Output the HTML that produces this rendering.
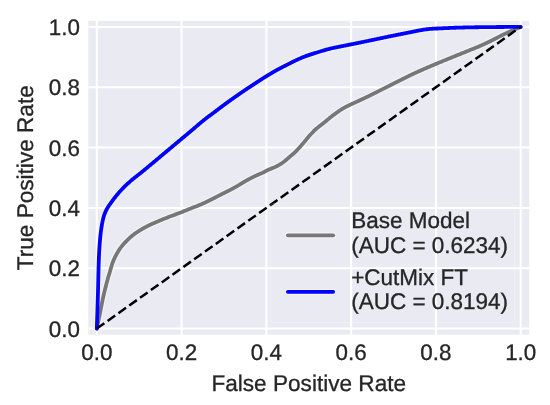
<!DOCTYPE html>
<html><head><meta charset="utf-8"><style>
html,body{margin:0;padding:0;background:#fff;}
svg{display:block;}
text{text-rendering:geometricPrecision;font-family:"Liberation Sans",Arial,sans-serif;fill:#262626;stroke:#262626;stroke-width:0.3px;}
</style></head><body>
<svg width="550" height="405" viewBox="0 0 550 405">
<rect x="88.32" y="20.87" width="440.86" height="313.77" fill="#EAEAF2"/>
<line x1="96.80" y1="20.87" x2="96.80" y2="334.63" stroke="#fff" stroke-width="2.0"/>
<line x1="88.32" y1="328.60" x2="529.18" y2="328.60" stroke="#fff" stroke-width="2.0"/>
<line x1="181.58" y1="20.87" x2="181.58" y2="334.63" stroke="#fff" stroke-width="2.0"/>
<line x1="88.32" y1="268.26" x2="529.18" y2="268.26" stroke="#fff" stroke-width="2.0"/>
<line x1="266.36" y1="20.87" x2="266.36" y2="334.63" stroke="#fff" stroke-width="2.0"/>
<line x1="88.32" y1="207.92" x2="529.18" y2="207.92" stroke="#fff" stroke-width="2.0"/>
<line x1="351.14" y1="20.87" x2="351.14" y2="334.63" stroke="#fff" stroke-width="2.0"/>
<line x1="88.32" y1="147.58" x2="529.18" y2="147.58" stroke="#fff" stroke-width="2.0"/>
<line x1="435.92" y1="20.87" x2="435.92" y2="334.63" stroke="#fff" stroke-width="2.0"/>
<line x1="88.32" y1="87.24" x2="529.18" y2="87.24" stroke="#fff" stroke-width="2.0"/>
<line x1="520.70" y1="20.87" x2="520.70" y2="334.63" stroke="#fff" stroke-width="2.0"/>
<line x1="88.32" y1="26.90" x2="529.18" y2="26.90" stroke="#fff" stroke-width="2.0"/>
<path d="M96.80,328.60 L96.98,327.77 L97.15,326.95 L97.32,326.12 L97.50,325.30 L97.67,324.47 L97.85,323.64 L98.02,322.81 L98.19,321.98 L98.36,321.16 L98.54,320.33 L98.71,319.50 L98.88,318.67 L99.05,317.84 L99.22,317.01 L99.39,316.18 L99.56,315.35 L99.73,314.52 L99.90,313.69 L100.07,312.85 L100.24,312.02 L100.40,311.18 L100.57,310.35 L100.73,309.51 L100.89,308.67 L101.05,307.83 L101.21,306.99 L101.37,306.15 L101.53,305.31 L101.70,304.47 L101.86,303.63 L102.02,302.79 L102.19,301.96 L102.35,301.12 L102.52,300.29 L102.69,299.46 L102.87,298.63 L103.04,297.81 L103.22,296.99 L103.41,296.18 L103.59,295.36 L103.78,294.55 L103.97,293.74 L104.16,292.92 L104.35,292.12 L104.54,291.31 L104.74,290.50 L104.94,289.70 L105.14,288.90 L105.34,288.10 L105.54,287.30 L105.74,286.50 L105.95,285.71 L106.16,284.91 L106.37,284.12 L106.57,283.33 L106.79,282.54 L107.00,281.75 L107.21,280.96 L107.43,280.18 L107.65,279.40 L107.87,278.62 L108.09,277.84 L108.32,277.07 L108.55,276.30 L108.78,275.53 L109.01,274.76 L109.24,273.99 L109.47,273.22 L109.70,272.44 L109.92,271.66 L110.14,270.88 L110.36,270.09 L110.58,269.31 L110.81,268.53 L111.03,267.75 L111.26,266.97 L111.49,266.20 L111.72,265.44 L111.96,264.68 L112.21,263.93 L112.47,263.19 L112.73,262.46 L113.00,261.74 L113.28,261.02 L113.57,260.32 L113.88,259.62 L114.18,258.92 L114.50,258.24 L114.83,257.56 L115.16,256.88 L115.50,256.22 L115.84,255.56 L116.19,254.90 L116.54,254.25 L116.89,253.61 L117.25,252.98 L117.62,252.35 L118.00,251.72 L118.38,251.10 L118.77,250.49 L119.16,249.88 L119.56,249.28 L119.97,248.68 L120.39,248.09 L120.81,247.51 L121.23,246.94 L121.66,246.37 L122.10,245.82 L122.55,245.27 L123.01,244.72 L123.47,244.19 L123.94,243.66 L124.42,243.13 L124.91,242.62 L125.40,242.10 L125.89,241.60 L126.39,241.09 L126.89,240.59 L127.40,240.10 L127.90,239.60 L128.41,239.11 L128.93,238.63 L129.44,238.14 L129.97,237.66 L130.49,237.19 L131.03,236.72 L131.57,236.25 L132.11,235.80 L132.66,235.35 L133.22,234.90 L133.78,234.47 L134.35,234.04 L134.93,233.62 L135.51,233.21 L136.11,232.80 L136.71,232.40 L137.32,232.01 L137.93,231.62 L138.54,231.23 L139.16,230.85 L139.79,230.47 L140.41,230.09 L141.04,229.72 L141.66,229.34 L142.29,228.97 L142.92,228.60 L143.55,228.23 L144.19,227.87 L144.83,227.50 L145.47,227.15 L146.12,226.79 L146.77,226.44 L147.43,226.10 L148.09,225.76 L148.75,225.42 L149.42,225.10 L150.10,224.77 L150.79,224.46 L151.47,224.15 L152.17,223.84 L152.86,223.53 L153.56,223.23 L154.26,222.93 L154.97,222.63 L155.67,222.33 L156.37,222.03 L157.07,221.73 L157.77,221.43 L158.47,221.13 L159.17,220.83 L159.87,220.53 L160.58,220.24 L161.29,219.94 L162.00,219.65 L162.71,219.36 L163.42,219.07 L164.13,218.79 L164.85,218.50 L165.57,218.22 L166.29,217.94 L167.01,217.66 L167.73,217.38 L168.45,217.10 L169.18,216.83 L169.90,216.55 L170.63,216.27 L171.35,216.00 L172.08,215.73 L172.81,215.45 L173.53,215.18 L174.26,214.90 L174.99,214.63 L175.72,214.36 L176.45,214.09 L177.18,213.82 L177.91,213.55 L178.64,213.28 L179.37,213.01 L180.10,212.73 L180.83,212.46 L181.55,212.18 L182.27,211.90 L182.99,211.62 L183.70,211.33 L184.41,211.05 L185.13,210.76 L185.84,210.47 L186.55,210.18 L187.26,209.89 L187.97,209.60 L188.68,209.31 L189.39,209.02 L190.10,208.73 L190.81,208.44 L191.53,208.15 L192.24,207.86 L192.96,207.58 L193.68,207.30 L194.41,207.02 L195.13,206.74 L195.85,206.47 L196.58,206.19 L197.30,205.91 L198.02,205.63 L198.73,205.34 L199.45,205.05 L200.15,204.76 L200.85,204.46 L201.55,204.16 L202.24,203.85 L202.93,203.54 L203.62,203.23 L204.30,202.92 L204.98,202.60 L205.66,202.28 L206.34,201.96 L207.02,201.63 L207.69,201.30 L208.36,200.97 L209.03,200.64 L209.70,200.31 L210.37,199.98 L211.03,199.64 L211.70,199.31 L212.36,198.97 L213.03,198.63 L213.69,198.29 L214.35,197.95 L215.01,197.61 L215.67,197.27 L216.34,196.93 L217.00,196.59 L217.66,196.25 L218.32,195.91 L218.98,195.58 L219.65,195.24 L220.31,194.90 L220.98,194.56 L221.64,194.23 L222.31,193.89 L222.98,193.56 L223.64,193.23 L224.31,192.89 L224.98,192.56 L225.65,192.23 L226.31,191.89 L226.98,191.55 L227.64,191.22 L228.30,190.88 L228.96,190.54 L229.62,190.19 L230.28,189.85 L230.93,189.50 L231.59,189.16 L232.24,188.81 L232.89,188.46 L233.54,188.11 L234.19,187.76 L234.84,187.41 L235.48,187.05 L236.13,186.69 L236.77,186.33 L237.40,185.97 L238.04,185.60 L238.67,185.23 L239.29,184.86 L239.91,184.48 L240.53,184.09 L241.15,183.71 L241.77,183.33 L242.38,182.94 L243.00,182.56 L243.62,182.18 L244.24,181.80 L244.87,181.42 L245.50,181.06 L246.14,180.69 L246.78,180.33 L247.42,179.98 L248.07,179.62 L248.72,179.27 L249.38,178.92 L250.03,178.58 L250.70,178.24 L251.36,177.91 L252.03,177.58 L252.70,177.25 L253.37,176.92 L254.05,176.60 L254.73,176.27 L255.41,175.95 L256.09,175.63 L256.78,175.32 L257.46,175.00 L258.15,174.69 L258.84,174.38 L259.54,174.08 L260.24,173.78 L260.94,173.48 L261.63,173.17 L262.32,172.85 L262.99,172.52 L263.66,172.19 L264.32,171.85 L264.98,171.51 L265.64,171.17 L266.30,170.82 L266.96,170.49 L267.63,170.15 L268.30,169.83 L268.99,169.52 L269.69,169.21 L270.40,168.92 L271.12,168.64 L271.84,168.36 L272.57,168.08 L273.29,167.80 L274.00,167.51 L274.70,167.22 L275.39,166.90 L276.05,166.58 L276.71,166.24 L277.37,165.89 L278.01,165.54 L278.65,165.17 L279.29,164.80 L279.91,164.42 L280.53,164.03 L281.14,163.64 L281.74,163.25 L282.34,162.84 L282.92,162.44 L283.50,162.01 L284.07,161.59 L284.63,161.15 L285.19,160.70 L285.74,160.25 L286.28,159.79 L286.83,159.33 L287.37,158.87 L287.91,158.41 L288.45,157.95 L288.98,157.48 L289.52,157.02 L290.06,156.56 L290.60,156.10 L291.14,155.64 L291.68,155.17 L292.21,154.71 L292.75,154.24 L293.28,153.76 L293.80,153.29 L294.32,152.81 L294.84,152.32 L295.35,151.84 L295.86,151.34 L296.35,150.84 L296.85,150.34 L297.34,149.83 L297.82,149.31 L298.31,148.80 L298.78,148.27 L299.26,147.74 L299.73,147.22 L300.20,146.68 L300.67,146.15 L301.13,145.61 L301.60,145.08 L302.07,144.54 L302.53,144.01 L303.00,143.47 L303.46,142.93 L303.92,142.39 L304.37,141.84 L304.82,141.30 L305.27,140.74 L305.72,140.19 L306.17,139.64 L306.62,139.09 L307.07,138.54 L307.53,137.99 L307.98,137.45 L308.44,136.91 L308.91,136.37 L309.38,135.84 L309.86,135.32 L310.33,134.80 L310.81,134.28 L311.30,133.76 L311.78,133.24 L312.27,132.73 L312.76,132.22 L313.26,131.71 L313.76,131.21 L314.26,130.71 L314.77,130.22 L315.28,129.73 L315.80,129.25 L316.32,128.78 L316.86,128.31 L317.40,127.85 L317.95,127.40 L318.50,126.96 L319.06,126.52 L319.63,126.08 L320.19,125.65 L320.76,125.21 L321.33,124.78 L321.90,124.34 L322.46,123.91 L323.02,123.46 L323.58,123.02 L324.13,122.57 L324.68,122.12 L325.23,121.67 L325.78,121.21 L326.32,120.76 L326.87,120.31 L327.42,119.85 L327.96,119.40 L328.51,118.94 L329.06,118.49 L329.61,118.04 L330.16,117.59 L330.71,117.14 L331.27,116.69 L331.83,116.25 L332.39,115.81 L332.95,115.38 L333.52,114.95 L334.10,114.52 L334.67,114.10 L335.25,113.68 L335.83,113.26 L336.42,112.84 L337.00,112.43 L337.59,112.01 L338.18,111.60 L338.78,111.19 L339.37,110.79 L339.97,110.38 L340.58,109.99 L341.19,109.59 L341.80,109.21 L342.42,108.82 L343.04,108.45 L343.67,108.08 L344.30,107.71 L344.94,107.36 L345.59,107.01 L346.25,106.67 L346.91,106.33 L347.58,106.00 L348.26,105.68 L348.94,105.35 L349.62,105.04 L350.31,104.72 L350.99,104.40 L351.68,104.08 L352.36,103.76 L353.04,103.44 L353.72,103.12 L354.40,102.80 L355.08,102.48 L355.77,102.17 L356.45,101.85 L357.14,101.54 L357.83,101.22 L358.51,100.91 L359.20,100.59 L359.88,100.28 L360.56,99.96 L361.25,99.64 L361.93,99.32 L362.61,99.00 L363.29,98.68 L363.97,98.36 L364.65,98.04 L365.33,97.71 L366.00,97.39 L366.68,97.07 L367.36,96.74 L368.03,96.42 L368.71,96.09 L369.38,95.76 L370.05,95.43 L370.72,95.10 L371.39,94.77 L372.06,94.44 L372.72,94.10 L373.39,93.77 L374.06,93.43 L374.72,93.10 L375.39,92.76 L376.05,92.43 L376.72,92.09 L377.39,91.76 L378.05,91.42 L378.72,91.09 L379.39,90.76 L380.06,90.42 L380.72,90.09 L381.39,89.76 L382.06,89.42 L382.73,89.09 L383.39,88.76 L384.06,88.42 L384.73,88.09 L385.39,87.75 L386.06,87.42 L386.72,87.08 L387.39,86.75 L388.05,86.41 L388.72,86.07 L389.38,85.74 L390.04,85.40 L390.71,85.06 L391.37,84.73 L392.04,84.39 L392.70,84.05 L393.37,83.72 L394.03,83.38 L394.70,83.05 L395.36,82.71 L396.03,82.38 L396.70,82.05 L397.37,81.71 L398.03,81.38 L398.70,81.05 L399.37,80.71 L400.04,80.38 L400.70,80.05 L401.37,79.71 L402.04,79.38 L402.70,79.05 L403.37,78.71 L404.03,78.37 L404.70,78.04 L405.36,77.70 L406.03,77.36 L406.69,77.03 L407.36,76.69 L408.03,76.36 L408.70,76.03 L409.37,75.70 L410.05,75.38 L410.72,75.05 L411.40,74.73 L412.08,74.41 L412.76,74.09 L413.45,73.78 L414.13,73.46 L414.82,73.14 L415.50,72.83 L416.19,72.52 L416.88,72.20 L417.57,71.89 L418.26,71.58 L418.95,71.27 L419.64,70.96 L420.33,70.65 L421.02,70.34 L421.72,70.04 L422.41,69.73 L423.10,69.42 L423.80,69.11 L424.50,68.81 L425.19,68.51 L425.89,68.20 L426.59,67.90 L427.29,67.60 L427.99,67.30 L428.69,67.00 L429.39,66.70 L430.09,66.40 L430.79,66.10 L431.49,65.80 L432.20,65.50 L432.90,65.21 L433.61,64.91 L434.31,64.61 L435.01,64.32 L435.72,64.02 L436.43,63.73 L437.13,63.43 L437.84,63.14 L438.55,62.85 L439.26,62.56 L439.97,62.26 L440.68,61.97 L441.39,61.68 L442.10,61.39 L442.81,61.10 L443.52,60.81 L444.23,60.52 L444.94,60.23 L445.65,59.94 L446.36,59.65 L447.07,59.36 L447.78,59.07 L448.49,58.78 L449.20,58.49 L449.91,58.20 L450.62,57.91 L451.34,57.62 L452.05,57.33 L452.76,57.04 L453.47,56.75 L454.18,56.46 L454.89,56.17 L455.61,55.88 L456.32,55.60 L457.03,55.31 L457.74,55.02 L458.46,54.73 L459.17,54.44 L459.88,54.15 L460.60,53.87 L461.31,53.58 L462.02,53.29 L462.74,53.01 L463.45,52.72 L464.16,52.43 L464.88,52.14 L465.59,51.86 L466.30,51.57 L467.02,51.28 L467.73,50.99 L468.44,50.70 L469.15,50.42 L469.87,50.13 L470.58,49.84 L471.30,49.56 L472.02,49.27 L472.73,48.99 L473.45,48.70 L474.16,48.42 L474.87,48.13 L475.59,47.84 L476.30,47.55 L477.01,47.26 L477.71,46.96 L478.42,46.67 L479.12,46.37 L479.81,46.06 L480.51,45.76 L481.20,45.45 L481.89,45.14 L482.58,44.83 L483.27,44.52 L483.96,44.20 L484.64,43.89 L485.32,43.57 L486.00,43.25 L486.68,42.93 L487.36,42.60 L488.04,42.28 L488.72,41.96 L489.39,41.63 L490.07,41.30 L490.74,40.98 L491.41,40.65 L492.08,40.32 L492.75,39.98 L493.41,39.65 L494.07,39.31 L494.73,38.97 L495.39,38.62 L496.05,38.28 L496.71,37.94 L497.37,37.60 L498.03,37.25 L498.69,36.91 L499.35,36.57 L500.01,36.24 L500.68,35.90 L501.34,35.57 L502.02,35.24 L502.69,34.91 L503.37,34.59 L504.04,34.26 L504.72,33.94 L505.40,33.62 L506.08,33.30 L506.77,32.98 L507.45,32.67 L508.14,32.35 L508.82,32.04 L509.51,31.72 L510.20,31.41 L510.89,31.10 L511.58,30.79 L512.28,30.48 L512.97,30.18 L513.66,29.87 L514.36,29.57 L515.06,29.27 L515.76,28.96 L516.46,28.67 L517.16,28.37 L517.87,28.07 L518.57,27.78 L519.28,27.48 L519.99,27.19 L520.70,26.90" stroke="#ffffff" stroke-opacity="0.45" stroke-width="6.199999999999999" stroke-linecap="round" stroke-linejoin="round" fill="none"/>
<path d="M96.80,328.60 L96.83,327.63 L96.87,326.67 L96.90,325.70 L96.94,324.73 L96.97,323.77 L97.00,322.80 L97.04,321.83 L97.07,320.86 L97.10,319.90 L97.14,318.93 L97.17,317.96 L97.20,316.99 L97.24,316.02 L97.27,315.06 L97.30,314.09 L97.33,313.12 L97.36,312.15 L97.40,311.18 L97.43,310.21 L97.46,309.24 L97.49,308.27 L97.52,307.30 L97.55,306.33 L97.58,305.36 L97.61,304.39 L97.64,303.42 L97.67,302.45 L97.70,301.48 L97.73,300.51 L97.76,299.54 L97.79,298.57 L97.82,297.60 L97.85,296.62 L97.88,295.65 L97.91,294.68 L97.94,293.71 L97.96,292.73 L97.99,291.76 L98.02,290.78 L98.04,289.80 L98.07,288.83 L98.09,287.85 L98.11,286.87 L98.14,285.89 L98.16,284.91 L98.18,283.93 L98.20,282.95 L98.23,281.96 L98.25,280.98 L98.27,280.00 L98.29,279.02 L98.31,278.04 L98.34,277.06 L98.36,276.08 L98.38,275.10 L98.40,274.12 L98.43,273.14 L98.45,272.16 L98.48,271.18 L98.50,270.21 L98.53,269.23 L98.55,268.26 L98.58,267.29 L98.61,266.31 L98.64,265.34 L98.67,264.37 L98.70,263.41 L98.73,262.44 L98.76,261.48 L98.79,260.52 L98.83,259.56 L98.86,258.60 L98.90,257.64 L98.94,256.69 L98.98,255.73 L99.03,254.78 L99.08,253.83 L99.13,252.88 L99.18,251.93 L99.23,250.98 L99.29,250.03 L99.35,249.09 L99.41,248.14 L99.47,247.20 L99.54,246.26 L99.60,245.32 L99.67,244.39 L99.74,243.46 L99.81,242.53 L99.89,241.60 L99.96,240.67 L100.04,239.75 L100.12,238.83 L100.20,237.92 L100.28,237.01 L100.37,236.10 L100.47,235.19 L100.57,234.29 L100.67,233.39 L100.78,232.50 L100.90,231.61 L101.01,230.72 L101.13,229.84 L101.26,228.97 L101.39,228.10 L101.52,227.23 L101.65,226.37 L101.79,225.50 L101.93,224.64 L102.08,223.78 L102.24,222.93 L102.40,222.09 L102.57,221.26 L102.75,220.43 L102.93,219.62 L103.12,218.82 L103.32,218.03 L103.54,217.25 L103.76,216.48 L104.01,215.71 L104.26,214.96 L104.53,214.22 L104.80,213.48 L105.09,212.76 L105.38,212.06 L105.68,211.37 L105.99,210.69 L106.31,210.03 L106.65,209.38 L107.01,208.74 L107.38,208.11 L107.75,207.48 L108.14,206.87 L108.54,206.26 L108.94,205.65 L109.35,205.05 L109.76,204.46 L110.18,203.87 L110.60,203.28 L111.02,202.70 L111.43,202.12 L111.85,201.53 L112.26,200.95 L112.69,200.37 L113.11,199.80 L113.54,199.22 L113.97,198.65 L114.41,198.09 L114.85,197.53 L115.29,196.97 L115.73,196.41 L116.18,195.86 L116.64,195.31 L117.09,194.76 L117.55,194.22 L118.01,193.68 L118.47,193.14 L118.94,192.61 L119.41,192.08 L119.88,191.55 L120.35,191.03 L120.83,190.50 L121.31,189.99 L121.80,189.47 L122.29,188.96 L122.78,188.45 L123.27,187.94 L123.77,187.44 L124.27,186.93 L124.77,186.43 L125.28,185.94 L125.79,185.44 L126.30,184.95 L126.81,184.47 L127.33,183.98 L127.85,183.50 L128.37,183.02 L128.89,182.54 L129.42,182.07 L129.94,181.59 L130.47,181.13 L131.01,180.67 L131.55,180.21 L132.10,179.75 L132.64,179.30 L133.20,178.85 L133.75,178.41 L134.31,177.96 L134.87,177.52 L135.43,177.08 L135.99,176.64 L136.55,176.20 L137.12,175.76 L137.68,175.32 L138.24,174.88 L138.81,174.45 L139.37,174.01 L139.93,173.56 L140.49,173.12 L141.04,172.68 L141.60,172.23 L142.15,171.78 L142.70,171.33 L143.25,170.88 L143.80,170.43 L144.34,169.97 L144.89,169.52 L145.44,169.07 L145.99,168.62 L146.54,168.16 L147.08,167.71 L147.63,167.26 L148.18,166.80 L148.73,166.35 L149.27,165.89 L149.82,165.44 L150.36,164.99 L150.91,164.53 L151.46,164.08 L152.00,163.62 L152.55,163.16 L153.09,162.71 L153.64,162.25 L154.18,161.80 L154.73,161.34 L155.27,160.88 L155.81,160.43 L156.36,159.97 L156.90,159.51 L157.45,159.06 L157.99,158.60 L158.54,158.14 L159.08,157.69 L159.62,157.23 L160.17,156.77 L160.71,156.32 L161.25,155.86 L161.80,155.40 L162.34,154.94 L162.89,154.49 L163.43,154.03 L163.97,153.57 L164.52,153.12 L165.06,152.66 L165.61,152.20 L166.15,151.75 L166.69,151.29 L167.24,150.83 L167.78,150.38 L168.33,149.92 L168.87,149.46 L169.42,149.01 L169.96,148.55 L170.51,148.10 L171.05,147.64 L171.60,147.19 L172.14,146.73 L172.69,146.27 L173.23,145.82 L173.78,145.36 L174.32,144.91 L174.87,144.45 L175.42,144.00 L175.96,143.54 L176.51,143.09 L177.05,142.63 L177.60,142.18 L178.14,141.72 L178.69,141.27 L179.23,140.81 L179.78,140.36 L180.33,139.90 L180.87,139.45 L181.42,138.99 L181.96,138.54 L182.51,138.08 L183.05,137.62 L183.60,137.17 L184.14,136.71 L184.69,136.26 L185.24,135.80 L185.78,135.35 L186.33,134.89 L186.87,134.44 L187.42,133.98 L187.96,133.52 L188.51,133.07 L189.05,132.61 L189.59,132.16 L190.14,131.70 L190.68,131.24 L191.23,130.78 L191.77,130.32 L192.31,129.86 L192.85,129.40 L193.39,128.94 L193.93,128.48 L194.47,128.02 L195.01,127.56 L195.55,127.10 L196.08,126.63 L196.62,126.17 L197.16,125.71 L197.70,125.25 L198.24,124.79 L198.79,124.33 L199.33,123.87 L199.87,123.41 L200.42,122.96 L200.96,122.50 L201.51,122.05 L202.06,121.60 L202.61,121.15 L203.16,120.70 L203.71,120.25 L204.27,119.80 L204.82,119.36 L205.38,118.92 L205.94,118.48 L206.51,118.05 L207.08,117.61 L207.65,117.18 L208.22,116.75 L208.79,116.32 L209.36,115.90 L209.94,115.47 L210.51,115.04 L211.09,114.62 L211.66,114.19 L212.24,113.77 L212.81,113.34 L213.39,112.91 L213.96,112.49 L214.54,112.06 L215.11,111.63 L215.68,111.20 L216.25,110.77 L216.82,110.34 L217.39,109.91 L217.96,109.48 L218.53,109.05 L219.10,108.61 L219.67,108.18 L220.24,107.75 L220.81,107.32 L221.38,106.89 L221.95,106.46 L222.52,106.03 L223.09,105.60 L223.67,105.18 L224.24,104.75 L224.82,104.32 L225.39,103.90 L225.97,103.48 L226.55,103.05 L227.13,102.63 L227.71,102.22 L228.29,101.80 L228.87,101.38 L229.46,100.96 L230.04,100.54 L230.62,100.12 L231.21,99.71 L231.79,99.29 L232.38,98.88 L232.96,98.46 L233.55,98.05 L234.14,97.63 L234.72,97.22 L235.31,96.81 L235.90,96.39 L236.49,95.98 L237.08,95.57 L237.67,95.16 L238.26,94.75 L238.85,94.34 L239.44,93.93 L240.04,93.52 L240.63,93.11 L241.22,92.71 L241.82,92.30 L242.41,91.89 L243.01,91.49 L243.60,91.08 L244.20,90.68 L244.80,90.27 L245.39,89.87 L245.99,89.47 L246.59,89.07 L247.19,88.67 L247.79,88.27 L248.39,87.87 L248.99,87.47 L249.59,87.07 L250.20,86.67 L250.80,86.27 L251.40,85.88 L252.01,85.48 L252.61,85.08 L253.21,84.68 L253.82,84.29 L254.42,83.89 L255.03,83.49 L255.63,83.10 L256.24,82.70 L256.84,82.31 L257.45,81.91 L258.06,81.52 L258.66,81.12 L259.27,80.73 L259.88,80.34 L260.49,79.94 L261.10,79.55 L261.71,79.16 L262.32,78.77 L262.94,78.39 L263.55,78.00 L264.16,77.61 L264.78,77.22 L265.40,76.84 L266.01,76.46 L266.63,76.07 L267.25,75.69 L267.87,75.31 L268.49,74.93 L269.12,74.56 L269.74,74.18 L270.37,73.80 L270.99,73.43 L271.62,73.06 L272.25,72.69 L272.88,72.32 L273.51,71.95 L274.15,71.59 L274.78,71.22 L275.42,70.86 L276.06,70.50 L276.70,70.14 L277.35,69.79 L278.00,69.44 L278.65,69.09 L279.30,68.74 L279.96,68.39 L280.61,68.05 L281.27,67.70 L281.93,67.36 L282.59,67.02 L283.25,66.68 L283.92,66.35 L284.58,66.01 L285.25,65.68 L285.91,65.34 L286.58,65.00 L287.24,64.67 L287.91,64.33 L288.57,63.99 L289.24,63.66 L289.90,63.32 L290.57,62.98 L291.24,62.65 L291.91,62.31 L292.57,61.98 L293.25,61.65 L293.92,61.32 L294.59,60.99 L295.27,60.66 L295.94,60.33 L296.62,60.01 L297.30,59.69 L297.99,59.37 L298.67,59.06 L299.36,58.75 L300.06,58.44 L300.75,58.14 L301.45,57.84 L302.15,57.54 L302.86,57.25 L303.57,56.96 L304.28,56.68 L305.00,56.40 L305.72,56.13 L306.45,55.86 L307.19,55.60 L307.93,55.35 L308.68,55.09 L309.44,54.85 L310.20,54.60 L310.96,54.36 L311.72,54.12 L312.48,53.88 L313.25,53.64 L314.01,53.41 L314.78,53.17 L315.54,52.93 L316.30,52.69 L317.06,52.45 L317.83,52.21 L318.59,51.97 L319.35,51.74 L320.12,51.50 L320.88,51.26 L321.65,51.03 L322.42,50.79 L323.19,50.56 L323.97,50.33 L324.74,50.11 L325.52,49.89 L326.30,49.67 L327.09,49.45 L327.87,49.24 L328.66,49.04 L329.46,48.83 L330.26,48.64 L331.06,48.44 L331.87,48.26 L332.69,48.07 L333.50,47.89 L334.32,47.71 L335.15,47.54 L335.98,47.36 L336.81,47.19 L337.64,47.02 L338.47,46.86 L339.31,46.69 L340.15,46.53 L340.99,46.36 L341.83,46.20 L342.67,46.04 L343.51,45.88 L344.35,45.72 L345.19,45.55 L346.03,45.39 L346.87,45.23 L347.70,45.06 L348.54,44.90 L349.37,44.73 L350.20,44.56 L351.03,44.39 L351.86,44.22 L352.70,44.05 L353.53,43.88 L354.36,43.71 L355.19,43.54 L356.02,43.37 L356.85,43.20 L357.68,43.03 L358.51,42.86 L359.34,42.69 L360.17,42.52 L361.01,42.35 L361.84,42.18 L362.67,42.01 L363.50,41.84 L364.33,41.67 L365.16,41.50 L365.99,41.33 L366.82,41.16 L367.65,40.99 L368.48,40.82 L369.31,40.64 L370.14,40.47 L370.96,40.30 L371.79,40.13 L372.62,39.95 L373.45,39.78 L374.27,39.61 L375.10,39.43 L375.93,39.26 L376.75,39.08 L377.58,38.91 L378.40,38.73 L379.23,38.56 L380.06,38.38 L380.88,38.21 L381.71,38.03 L382.53,37.86 L383.36,37.68 L384.19,37.51 L385.01,37.33 L385.84,37.16 L386.67,36.99 L387.50,36.82 L388.33,36.64 L389.16,36.47 L389.99,36.30 L390.82,36.13 L391.65,35.96 L392.48,35.79 L393.31,35.63 L394.15,35.46 L394.98,35.29 L395.81,35.12 L396.65,34.96 L397.48,34.79 L398.32,34.62 L399.15,34.46 L399.98,34.29 L400.82,34.12 L401.65,33.96 L402.49,33.79 L403.33,33.63 L404.16,33.46 L405.00,33.30 L405.83,33.13 L406.67,32.96 L407.50,32.80 L408.33,32.63 L409.17,32.47 L410.00,32.30 L410.84,32.13 L411.67,31.96 L412.50,31.79 L413.33,31.62 L414.16,31.45 L414.99,31.28 L415.83,31.12 L416.66,30.95 L417.50,30.79 L418.35,30.64 L419.19,30.48 L420.04,30.32 L420.88,30.16 L421.73,30.01 L422.58,29.86 L423.45,29.72 L424.31,29.59 L425.19,29.48 L426.08,29.37 L426.98,29.26 L427.88,29.16 L428.79,29.07 L429.71,28.98 L430.63,28.90 L431.56,28.83 L432.49,28.77 L433.43,28.71 L434.38,28.66 L435.33,28.61 L436.29,28.56 L437.25,28.52 L438.21,28.48 L439.17,28.44 L440.13,28.39 L441.08,28.35 L442.04,28.31 L443.00,28.26 L443.96,28.22 L444.91,28.18 L445.87,28.13 L446.83,28.09 L447.79,28.05 L448.75,28.01 L449.71,27.97 L450.67,27.93 L451.64,27.89 L452.60,27.85 L453.56,27.81 L454.53,27.77 L455.49,27.74 L456.46,27.71 L457.43,27.68 L458.40,27.65 L459.37,27.62 L460.34,27.59 L461.31,27.57 L462.29,27.54 L463.26,27.52 L464.24,27.49 L465.22,27.47 L466.19,27.45 L467.17,27.43 L468.15,27.40 L469.14,27.38 L470.12,27.36 L471.10,27.35 L472.08,27.33 L473.07,27.31 L474.05,27.29 L475.04,27.27 L476.02,27.26 L477.01,27.24 L477.99,27.23 L478.98,27.21 L479.97,27.20 L480.95,27.19 L481.94,27.17 L482.93,27.16 L483.92,27.15 L484.90,27.14 L485.89,27.13 L486.88,27.12 L487.87,27.11 L488.87,27.09 L489.86,27.08 L490.85,27.07 L491.84,27.07 L492.83,27.06 L493.83,27.05 L494.82,27.04 L495.81,27.03 L496.80,27.02 L497.80,27.02 L498.79,27.01 L499.78,27.00 L500.78,26.99 L501.77,26.99 L502.77,26.98 L503.76,26.98 L504.75,26.97 L505.75,26.96 L506.74,26.96 L507.74,26.95 L508.73,26.95 L509.73,26.94 L510.73,26.94 L511.72,26.93 L512.72,26.93 L513.72,26.92 L514.71,26.92 L515.71,26.92 L516.71,26.91 L517.71,26.91 L518.70,26.91 L519.70,26.90 L520.70,26.90" stroke="#ffffff" stroke-opacity="0.45" stroke-width="6.199999999999999" stroke-linecap="round" stroke-linejoin="round" fill="none"/>
<path d="M96.80,328.60 L96.98,327.77 L97.15,326.95 L97.32,326.12 L97.50,325.30 L97.67,324.47 L97.85,323.64 L98.02,322.81 L98.19,321.98 L98.36,321.16 L98.54,320.33 L98.71,319.50 L98.88,318.67 L99.05,317.84 L99.22,317.01 L99.39,316.18 L99.56,315.35 L99.73,314.52 L99.90,313.69 L100.07,312.85 L100.24,312.02 L100.40,311.18 L100.57,310.35 L100.73,309.51 L100.89,308.67 L101.05,307.83 L101.21,306.99 L101.37,306.15 L101.53,305.31 L101.70,304.47 L101.86,303.63 L102.02,302.79 L102.19,301.96 L102.35,301.12 L102.52,300.29 L102.69,299.46 L102.87,298.63 L103.04,297.81 L103.22,296.99 L103.41,296.18 L103.59,295.36 L103.78,294.55 L103.97,293.74 L104.16,292.92 L104.35,292.12 L104.54,291.31 L104.74,290.50 L104.94,289.70 L105.14,288.90 L105.34,288.10 L105.54,287.30 L105.74,286.50 L105.95,285.71 L106.16,284.91 L106.37,284.12 L106.57,283.33 L106.79,282.54 L107.00,281.75 L107.21,280.96 L107.43,280.18 L107.65,279.40 L107.87,278.62 L108.09,277.84 L108.32,277.07 L108.55,276.30 L108.78,275.53 L109.01,274.76 L109.24,273.99 L109.47,273.22 L109.70,272.44 L109.92,271.66 L110.14,270.88 L110.36,270.09 L110.58,269.31 L110.81,268.53 L111.03,267.75 L111.26,266.97 L111.49,266.20 L111.72,265.44 L111.96,264.68 L112.21,263.93 L112.47,263.19 L112.73,262.46 L113.00,261.74 L113.28,261.02 L113.57,260.32 L113.88,259.62 L114.18,258.92 L114.50,258.24 L114.83,257.56 L115.16,256.88 L115.50,256.22 L115.84,255.56 L116.19,254.90 L116.54,254.25 L116.89,253.61 L117.25,252.98 L117.62,252.35 L118.00,251.72 L118.38,251.10 L118.77,250.49 L119.16,249.88 L119.56,249.28 L119.97,248.68 L120.39,248.09 L120.81,247.51 L121.23,246.94 L121.66,246.37 L122.10,245.82 L122.55,245.27 L123.01,244.72 L123.47,244.19 L123.94,243.66 L124.42,243.13 L124.91,242.62 L125.40,242.10 L125.89,241.60 L126.39,241.09 L126.89,240.59 L127.40,240.10 L127.90,239.60 L128.41,239.11 L128.93,238.63 L129.44,238.14 L129.97,237.66 L130.49,237.19 L131.03,236.72 L131.57,236.25 L132.11,235.80 L132.66,235.35 L133.22,234.90 L133.78,234.47 L134.35,234.04 L134.93,233.62 L135.51,233.21 L136.11,232.80 L136.71,232.40 L137.32,232.01 L137.93,231.62 L138.54,231.23 L139.16,230.85 L139.79,230.47 L140.41,230.09 L141.04,229.72 L141.66,229.34 L142.29,228.97 L142.92,228.60 L143.55,228.23 L144.19,227.87 L144.83,227.50 L145.47,227.15 L146.12,226.79 L146.77,226.44 L147.43,226.10 L148.09,225.76 L148.75,225.42 L149.42,225.10 L150.10,224.77 L150.79,224.46 L151.47,224.15 L152.17,223.84 L152.86,223.53 L153.56,223.23 L154.26,222.93 L154.97,222.63 L155.67,222.33 L156.37,222.03 L157.07,221.73 L157.77,221.43 L158.47,221.13 L159.17,220.83 L159.87,220.53 L160.58,220.24 L161.29,219.94 L162.00,219.65 L162.71,219.36 L163.42,219.07 L164.13,218.79 L164.85,218.50 L165.57,218.22 L166.29,217.94 L167.01,217.66 L167.73,217.38 L168.45,217.10 L169.18,216.83 L169.90,216.55 L170.63,216.27 L171.35,216.00 L172.08,215.73 L172.81,215.45 L173.53,215.18 L174.26,214.90 L174.99,214.63 L175.72,214.36 L176.45,214.09 L177.18,213.82 L177.91,213.55 L178.64,213.28 L179.37,213.01 L180.10,212.73 L180.83,212.46 L181.55,212.18 L182.27,211.90 L182.99,211.62 L183.70,211.33 L184.41,211.05 L185.13,210.76 L185.84,210.47 L186.55,210.18 L187.26,209.89 L187.97,209.60 L188.68,209.31 L189.39,209.02 L190.10,208.73 L190.81,208.44 L191.53,208.15 L192.24,207.86 L192.96,207.58 L193.68,207.30 L194.41,207.02 L195.13,206.74 L195.85,206.47 L196.58,206.19 L197.30,205.91 L198.02,205.63 L198.73,205.34 L199.45,205.05 L200.15,204.76 L200.85,204.46 L201.55,204.16 L202.24,203.85 L202.93,203.54 L203.62,203.23 L204.30,202.92 L204.98,202.60 L205.66,202.28 L206.34,201.96 L207.02,201.63 L207.69,201.30 L208.36,200.97 L209.03,200.64 L209.70,200.31 L210.37,199.98 L211.03,199.64 L211.70,199.31 L212.36,198.97 L213.03,198.63 L213.69,198.29 L214.35,197.95 L215.01,197.61 L215.67,197.27 L216.34,196.93 L217.00,196.59 L217.66,196.25 L218.32,195.91 L218.98,195.58 L219.65,195.24 L220.31,194.90 L220.98,194.56 L221.64,194.23 L222.31,193.89 L222.98,193.56 L223.64,193.23 L224.31,192.89 L224.98,192.56 L225.65,192.23 L226.31,191.89 L226.98,191.55 L227.64,191.22 L228.30,190.88 L228.96,190.54 L229.62,190.19 L230.28,189.85 L230.93,189.50 L231.59,189.16 L232.24,188.81 L232.89,188.46 L233.54,188.11 L234.19,187.76 L234.84,187.41 L235.48,187.05 L236.13,186.69 L236.77,186.33 L237.40,185.97 L238.04,185.60 L238.67,185.23 L239.29,184.86 L239.91,184.48 L240.53,184.09 L241.15,183.71 L241.77,183.33 L242.38,182.94 L243.00,182.56 L243.62,182.18 L244.24,181.80 L244.87,181.42 L245.50,181.06 L246.14,180.69 L246.78,180.33 L247.42,179.98 L248.07,179.62 L248.72,179.27 L249.38,178.92 L250.03,178.58 L250.70,178.24 L251.36,177.91 L252.03,177.58 L252.70,177.25 L253.37,176.92 L254.05,176.60 L254.73,176.27 L255.41,175.95 L256.09,175.63 L256.78,175.32 L257.46,175.00 L258.15,174.69 L258.84,174.38 L259.54,174.08 L260.24,173.78 L260.94,173.48 L261.63,173.17 L262.32,172.85 L262.99,172.52 L263.66,172.19 L264.32,171.85 L264.98,171.51 L265.64,171.17 L266.30,170.82 L266.96,170.49 L267.63,170.15 L268.30,169.83 L268.99,169.52 L269.69,169.21 L270.40,168.92 L271.12,168.64 L271.84,168.36 L272.57,168.08 L273.29,167.80 L274.00,167.51 L274.70,167.22 L275.39,166.90 L276.05,166.58 L276.71,166.24 L277.37,165.89 L278.01,165.54 L278.65,165.17 L279.29,164.80 L279.91,164.42 L280.53,164.03 L281.14,163.64 L281.74,163.25 L282.34,162.84 L282.92,162.44 L283.50,162.01 L284.07,161.59 L284.63,161.15 L285.19,160.70 L285.74,160.25 L286.28,159.79 L286.83,159.33 L287.37,158.87 L287.91,158.41 L288.45,157.95 L288.98,157.48 L289.52,157.02 L290.06,156.56 L290.60,156.10 L291.14,155.64 L291.68,155.17 L292.21,154.71 L292.75,154.24 L293.28,153.76 L293.80,153.29 L294.32,152.81 L294.84,152.32 L295.35,151.84 L295.86,151.34 L296.35,150.84 L296.85,150.34 L297.34,149.83 L297.82,149.31 L298.31,148.80 L298.78,148.27 L299.26,147.74 L299.73,147.22 L300.20,146.68 L300.67,146.15 L301.13,145.61 L301.60,145.08 L302.07,144.54 L302.53,144.01 L303.00,143.47 L303.46,142.93 L303.92,142.39 L304.37,141.84 L304.82,141.30 L305.27,140.74 L305.72,140.19 L306.17,139.64 L306.62,139.09 L307.07,138.54 L307.53,137.99 L307.98,137.45 L308.44,136.91 L308.91,136.37 L309.38,135.84 L309.86,135.32 L310.33,134.80 L310.81,134.28 L311.30,133.76 L311.78,133.24 L312.27,132.73 L312.76,132.22 L313.26,131.71 L313.76,131.21 L314.26,130.71 L314.77,130.22 L315.28,129.73 L315.80,129.25 L316.32,128.78 L316.86,128.31 L317.40,127.85 L317.95,127.40 L318.50,126.96 L319.06,126.52 L319.63,126.08 L320.19,125.65 L320.76,125.21 L321.33,124.78 L321.90,124.34 L322.46,123.91 L323.02,123.46 L323.58,123.02 L324.13,122.57 L324.68,122.12 L325.23,121.67 L325.78,121.21 L326.32,120.76 L326.87,120.31 L327.42,119.85 L327.96,119.40 L328.51,118.94 L329.06,118.49 L329.61,118.04 L330.16,117.59 L330.71,117.14 L331.27,116.69 L331.83,116.25 L332.39,115.81 L332.95,115.38 L333.52,114.95 L334.10,114.52 L334.67,114.10 L335.25,113.68 L335.83,113.26 L336.42,112.84 L337.00,112.43 L337.59,112.01 L338.18,111.60 L338.78,111.19 L339.37,110.79 L339.97,110.38 L340.58,109.99 L341.19,109.59 L341.80,109.21 L342.42,108.82 L343.04,108.45 L343.67,108.08 L344.30,107.71 L344.94,107.36 L345.59,107.01 L346.25,106.67 L346.91,106.33 L347.58,106.00 L348.26,105.68 L348.94,105.35 L349.62,105.04 L350.31,104.72 L350.99,104.40 L351.68,104.08 L352.36,103.76 L353.04,103.44 L353.72,103.12 L354.40,102.80 L355.08,102.48 L355.77,102.17 L356.45,101.85 L357.14,101.54 L357.83,101.22 L358.51,100.91 L359.20,100.59 L359.88,100.28 L360.56,99.96 L361.25,99.64 L361.93,99.32 L362.61,99.00 L363.29,98.68 L363.97,98.36 L364.65,98.04 L365.33,97.71 L366.00,97.39 L366.68,97.07 L367.36,96.74 L368.03,96.42 L368.71,96.09 L369.38,95.76 L370.05,95.43 L370.72,95.10 L371.39,94.77 L372.06,94.44 L372.72,94.10 L373.39,93.77 L374.06,93.43 L374.72,93.10 L375.39,92.76 L376.05,92.43 L376.72,92.09 L377.39,91.76 L378.05,91.42 L378.72,91.09 L379.39,90.76 L380.06,90.42 L380.72,90.09 L381.39,89.76 L382.06,89.42 L382.73,89.09 L383.39,88.76 L384.06,88.42 L384.73,88.09 L385.39,87.75 L386.06,87.42 L386.72,87.08 L387.39,86.75 L388.05,86.41 L388.72,86.07 L389.38,85.74 L390.04,85.40 L390.71,85.06 L391.37,84.73 L392.04,84.39 L392.70,84.05 L393.37,83.72 L394.03,83.38 L394.70,83.05 L395.36,82.71 L396.03,82.38 L396.70,82.05 L397.37,81.71 L398.03,81.38 L398.70,81.05 L399.37,80.71 L400.04,80.38 L400.70,80.05 L401.37,79.71 L402.04,79.38 L402.70,79.05 L403.37,78.71 L404.03,78.37 L404.70,78.04 L405.36,77.70 L406.03,77.36 L406.69,77.03 L407.36,76.69 L408.03,76.36 L408.70,76.03 L409.37,75.70 L410.05,75.38 L410.72,75.05 L411.40,74.73 L412.08,74.41 L412.76,74.09 L413.45,73.78 L414.13,73.46 L414.82,73.14 L415.50,72.83 L416.19,72.52 L416.88,72.20 L417.57,71.89 L418.26,71.58 L418.95,71.27 L419.64,70.96 L420.33,70.65 L421.02,70.34 L421.72,70.04 L422.41,69.73 L423.10,69.42 L423.80,69.11 L424.50,68.81 L425.19,68.51 L425.89,68.20 L426.59,67.90 L427.29,67.60 L427.99,67.30 L428.69,67.00 L429.39,66.70 L430.09,66.40 L430.79,66.10 L431.49,65.80 L432.20,65.50 L432.90,65.21 L433.61,64.91 L434.31,64.61 L435.01,64.32 L435.72,64.02 L436.43,63.73 L437.13,63.43 L437.84,63.14 L438.55,62.85 L439.26,62.56 L439.97,62.26 L440.68,61.97 L441.39,61.68 L442.10,61.39 L442.81,61.10 L443.52,60.81 L444.23,60.52 L444.94,60.23 L445.65,59.94 L446.36,59.65 L447.07,59.36 L447.78,59.07 L448.49,58.78 L449.20,58.49 L449.91,58.20 L450.62,57.91 L451.34,57.62 L452.05,57.33 L452.76,57.04 L453.47,56.75 L454.18,56.46 L454.89,56.17 L455.61,55.88 L456.32,55.60 L457.03,55.31 L457.74,55.02 L458.46,54.73 L459.17,54.44 L459.88,54.15 L460.60,53.87 L461.31,53.58 L462.02,53.29 L462.74,53.01 L463.45,52.72 L464.16,52.43 L464.88,52.14 L465.59,51.86 L466.30,51.57 L467.02,51.28 L467.73,50.99 L468.44,50.70 L469.15,50.42 L469.87,50.13 L470.58,49.84 L471.30,49.56 L472.02,49.27 L472.73,48.99 L473.45,48.70 L474.16,48.42 L474.87,48.13 L475.59,47.84 L476.30,47.55 L477.01,47.26 L477.71,46.96 L478.42,46.67 L479.12,46.37 L479.81,46.06 L480.51,45.76 L481.20,45.45 L481.89,45.14 L482.58,44.83 L483.27,44.52 L483.96,44.20 L484.64,43.89 L485.32,43.57 L486.00,43.25 L486.68,42.93 L487.36,42.60 L488.04,42.28 L488.72,41.96 L489.39,41.63 L490.07,41.30 L490.74,40.98 L491.41,40.65 L492.08,40.32 L492.75,39.98 L493.41,39.65 L494.07,39.31 L494.73,38.97 L495.39,38.62 L496.05,38.28 L496.71,37.94 L497.37,37.60 L498.03,37.25 L498.69,36.91 L499.35,36.57 L500.01,36.24 L500.68,35.90 L501.34,35.57 L502.02,35.24 L502.69,34.91 L503.37,34.59 L504.04,34.26 L504.72,33.94 L505.40,33.62 L506.08,33.30 L506.77,32.98 L507.45,32.67 L508.14,32.35 L508.82,32.04 L509.51,31.72 L510.20,31.41 L510.89,31.10 L511.58,30.79 L512.28,30.48 L512.97,30.18 L513.66,29.87 L514.36,29.57 L515.06,29.27 L515.76,28.96 L516.46,28.67 L517.16,28.37 L517.87,28.07 L518.57,27.78 L519.28,27.48 L519.99,27.19 L520.70,26.90" fill="none" stroke="#777777" stroke-width="3.8" stroke-linecap="round" stroke-linejoin="round"/>
<path d="M96.80,328.60 L96.83,327.63 L96.87,326.67 L96.90,325.70 L96.94,324.73 L96.97,323.77 L97.00,322.80 L97.04,321.83 L97.07,320.86 L97.10,319.90 L97.14,318.93 L97.17,317.96 L97.20,316.99 L97.24,316.02 L97.27,315.06 L97.30,314.09 L97.33,313.12 L97.36,312.15 L97.40,311.18 L97.43,310.21 L97.46,309.24 L97.49,308.27 L97.52,307.30 L97.55,306.33 L97.58,305.36 L97.61,304.39 L97.64,303.42 L97.67,302.45 L97.70,301.48 L97.73,300.51 L97.76,299.54 L97.79,298.57 L97.82,297.60 L97.85,296.62 L97.88,295.65 L97.91,294.68 L97.94,293.71 L97.96,292.73 L97.99,291.76 L98.02,290.78 L98.04,289.80 L98.07,288.83 L98.09,287.85 L98.11,286.87 L98.14,285.89 L98.16,284.91 L98.18,283.93 L98.20,282.95 L98.23,281.96 L98.25,280.98 L98.27,280.00 L98.29,279.02 L98.31,278.04 L98.34,277.06 L98.36,276.08 L98.38,275.10 L98.40,274.12 L98.43,273.14 L98.45,272.16 L98.48,271.18 L98.50,270.21 L98.53,269.23 L98.55,268.26 L98.58,267.29 L98.61,266.31 L98.64,265.34 L98.67,264.37 L98.70,263.41 L98.73,262.44 L98.76,261.48 L98.79,260.52 L98.83,259.56 L98.86,258.60 L98.90,257.64 L98.94,256.69 L98.98,255.73 L99.03,254.78 L99.08,253.83 L99.13,252.88 L99.18,251.93 L99.23,250.98 L99.29,250.03 L99.35,249.09 L99.41,248.14 L99.47,247.20 L99.54,246.26 L99.60,245.32 L99.67,244.39 L99.74,243.46 L99.81,242.53 L99.89,241.60 L99.96,240.67 L100.04,239.75 L100.12,238.83 L100.20,237.92 L100.28,237.01 L100.37,236.10 L100.47,235.19 L100.57,234.29 L100.67,233.39 L100.78,232.50 L100.90,231.61 L101.01,230.72 L101.13,229.84 L101.26,228.97 L101.39,228.10 L101.52,227.23 L101.65,226.37 L101.79,225.50 L101.93,224.64 L102.08,223.78 L102.24,222.93 L102.40,222.09 L102.57,221.26 L102.75,220.43 L102.93,219.62 L103.12,218.82 L103.32,218.03 L103.54,217.25 L103.76,216.48 L104.01,215.71 L104.26,214.96 L104.53,214.22 L104.80,213.48 L105.09,212.76 L105.38,212.06 L105.68,211.37 L105.99,210.69 L106.31,210.03 L106.65,209.38 L107.01,208.74 L107.38,208.11 L107.75,207.48 L108.14,206.87 L108.54,206.26 L108.94,205.65 L109.35,205.05 L109.76,204.46 L110.18,203.87 L110.60,203.28 L111.02,202.70 L111.43,202.12 L111.85,201.53 L112.26,200.95 L112.69,200.37 L113.11,199.80 L113.54,199.22 L113.97,198.65 L114.41,198.09 L114.85,197.53 L115.29,196.97 L115.73,196.41 L116.18,195.86 L116.64,195.31 L117.09,194.76 L117.55,194.22 L118.01,193.68 L118.47,193.14 L118.94,192.61 L119.41,192.08 L119.88,191.55 L120.35,191.03 L120.83,190.50 L121.31,189.99 L121.80,189.47 L122.29,188.96 L122.78,188.45 L123.27,187.94 L123.77,187.44 L124.27,186.93 L124.77,186.43 L125.28,185.94 L125.79,185.44 L126.30,184.95 L126.81,184.47 L127.33,183.98 L127.85,183.50 L128.37,183.02 L128.89,182.54 L129.42,182.07 L129.94,181.59 L130.47,181.13 L131.01,180.67 L131.55,180.21 L132.10,179.75 L132.64,179.30 L133.20,178.85 L133.75,178.41 L134.31,177.96 L134.87,177.52 L135.43,177.08 L135.99,176.64 L136.55,176.20 L137.12,175.76 L137.68,175.32 L138.24,174.88 L138.81,174.45 L139.37,174.01 L139.93,173.56 L140.49,173.12 L141.04,172.68 L141.60,172.23 L142.15,171.78 L142.70,171.33 L143.25,170.88 L143.80,170.43 L144.34,169.97 L144.89,169.52 L145.44,169.07 L145.99,168.62 L146.54,168.16 L147.08,167.71 L147.63,167.26 L148.18,166.80 L148.73,166.35 L149.27,165.89 L149.82,165.44 L150.36,164.99 L150.91,164.53 L151.46,164.08 L152.00,163.62 L152.55,163.16 L153.09,162.71 L153.64,162.25 L154.18,161.80 L154.73,161.34 L155.27,160.88 L155.81,160.43 L156.36,159.97 L156.90,159.51 L157.45,159.06 L157.99,158.60 L158.54,158.14 L159.08,157.69 L159.62,157.23 L160.17,156.77 L160.71,156.32 L161.25,155.86 L161.80,155.40 L162.34,154.94 L162.89,154.49 L163.43,154.03 L163.97,153.57 L164.52,153.12 L165.06,152.66 L165.61,152.20 L166.15,151.75 L166.69,151.29 L167.24,150.83 L167.78,150.38 L168.33,149.92 L168.87,149.46 L169.42,149.01 L169.96,148.55 L170.51,148.10 L171.05,147.64 L171.60,147.19 L172.14,146.73 L172.69,146.27 L173.23,145.82 L173.78,145.36 L174.32,144.91 L174.87,144.45 L175.42,144.00 L175.96,143.54 L176.51,143.09 L177.05,142.63 L177.60,142.18 L178.14,141.72 L178.69,141.27 L179.23,140.81 L179.78,140.36 L180.33,139.90 L180.87,139.45 L181.42,138.99 L181.96,138.54 L182.51,138.08 L183.05,137.62 L183.60,137.17 L184.14,136.71 L184.69,136.26 L185.24,135.80 L185.78,135.35 L186.33,134.89 L186.87,134.44 L187.42,133.98 L187.96,133.52 L188.51,133.07 L189.05,132.61 L189.59,132.16 L190.14,131.70 L190.68,131.24 L191.23,130.78 L191.77,130.32 L192.31,129.86 L192.85,129.40 L193.39,128.94 L193.93,128.48 L194.47,128.02 L195.01,127.56 L195.55,127.10 L196.08,126.63 L196.62,126.17 L197.16,125.71 L197.70,125.25 L198.24,124.79 L198.79,124.33 L199.33,123.87 L199.87,123.41 L200.42,122.96 L200.96,122.50 L201.51,122.05 L202.06,121.60 L202.61,121.15 L203.16,120.70 L203.71,120.25 L204.27,119.80 L204.82,119.36 L205.38,118.92 L205.94,118.48 L206.51,118.05 L207.08,117.61 L207.65,117.18 L208.22,116.75 L208.79,116.32 L209.36,115.90 L209.94,115.47 L210.51,115.04 L211.09,114.62 L211.66,114.19 L212.24,113.77 L212.81,113.34 L213.39,112.91 L213.96,112.49 L214.54,112.06 L215.11,111.63 L215.68,111.20 L216.25,110.77 L216.82,110.34 L217.39,109.91 L217.96,109.48 L218.53,109.05 L219.10,108.61 L219.67,108.18 L220.24,107.75 L220.81,107.32 L221.38,106.89 L221.95,106.46 L222.52,106.03 L223.09,105.60 L223.67,105.18 L224.24,104.75 L224.82,104.32 L225.39,103.90 L225.97,103.48 L226.55,103.05 L227.13,102.63 L227.71,102.22 L228.29,101.80 L228.87,101.38 L229.46,100.96 L230.04,100.54 L230.62,100.12 L231.21,99.71 L231.79,99.29 L232.38,98.88 L232.96,98.46 L233.55,98.05 L234.14,97.63 L234.72,97.22 L235.31,96.81 L235.90,96.39 L236.49,95.98 L237.08,95.57 L237.67,95.16 L238.26,94.75 L238.85,94.34 L239.44,93.93 L240.04,93.52 L240.63,93.11 L241.22,92.71 L241.82,92.30 L242.41,91.89 L243.01,91.49 L243.60,91.08 L244.20,90.68 L244.80,90.27 L245.39,89.87 L245.99,89.47 L246.59,89.07 L247.19,88.67 L247.79,88.27 L248.39,87.87 L248.99,87.47 L249.59,87.07 L250.20,86.67 L250.80,86.27 L251.40,85.88 L252.01,85.48 L252.61,85.08 L253.21,84.68 L253.82,84.29 L254.42,83.89 L255.03,83.49 L255.63,83.10 L256.24,82.70 L256.84,82.31 L257.45,81.91 L258.06,81.52 L258.66,81.12 L259.27,80.73 L259.88,80.34 L260.49,79.94 L261.10,79.55 L261.71,79.16 L262.32,78.77 L262.94,78.39 L263.55,78.00 L264.16,77.61 L264.78,77.22 L265.40,76.84 L266.01,76.46 L266.63,76.07 L267.25,75.69 L267.87,75.31 L268.49,74.93 L269.12,74.56 L269.74,74.18 L270.37,73.80 L270.99,73.43 L271.62,73.06 L272.25,72.69 L272.88,72.32 L273.51,71.95 L274.15,71.59 L274.78,71.22 L275.42,70.86 L276.06,70.50 L276.70,70.14 L277.35,69.79 L278.00,69.44 L278.65,69.09 L279.30,68.74 L279.96,68.39 L280.61,68.05 L281.27,67.70 L281.93,67.36 L282.59,67.02 L283.25,66.68 L283.92,66.35 L284.58,66.01 L285.25,65.68 L285.91,65.34 L286.58,65.00 L287.24,64.67 L287.91,64.33 L288.57,63.99 L289.24,63.66 L289.90,63.32 L290.57,62.98 L291.24,62.65 L291.91,62.31 L292.57,61.98 L293.25,61.65 L293.92,61.32 L294.59,60.99 L295.27,60.66 L295.94,60.33 L296.62,60.01 L297.30,59.69 L297.99,59.37 L298.67,59.06 L299.36,58.75 L300.06,58.44 L300.75,58.14 L301.45,57.84 L302.15,57.54 L302.86,57.25 L303.57,56.96 L304.28,56.68 L305.00,56.40 L305.72,56.13 L306.45,55.86 L307.19,55.60 L307.93,55.35 L308.68,55.09 L309.44,54.85 L310.20,54.60 L310.96,54.36 L311.72,54.12 L312.48,53.88 L313.25,53.64 L314.01,53.41 L314.78,53.17 L315.54,52.93 L316.30,52.69 L317.06,52.45 L317.83,52.21 L318.59,51.97 L319.35,51.74 L320.12,51.50 L320.88,51.26 L321.65,51.03 L322.42,50.79 L323.19,50.56 L323.97,50.33 L324.74,50.11 L325.52,49.89 L326.30,49.67 L327.09,49.45 L327.87,49.24 L328.66,49.04 L329.46,48.83 L330.26,48.64 L331.06,48.44 L331.87,48.26 L332.69,48.07 L333.50,47.89 L334.32,47.71 L335.15,47.54 L335.98,47.36 L336.81,47.19 L337.64,47.02 L338.47,46.86 L339.31,46.69 L340.15,46.53 L340.99,46.36 L341.83,46.20 L342.67,46.04 L343.51,45.88 L344.35,45.72 L345.19,45.55 L346.03,45.39 L346.87,45.23 L347.70,45.06 L348.54,44.90 L349.37,44.73 L350.20,44.56 L351.03,44.39 L351.86,44.22 L352.70,44.05 L353.53,43.88 L354.36,43.71 L355.19,43.54 L356.02,43.37 L356.85,43.20 L357.68,43.03 L358.51,42.86 L359.34,42.69 L360.17,42.52 L361.01,42.35 L361.84,42.18 L362.67,42.01 L363.50,41.84 L364.33,41.67 L365.16,41.50 L365.99,41.33 L366.82,41.16 L367.65,40.99 L368.48,40.82 L369.31,40.64 L370.14,40.47 L370.96,40.30 L371.79,40.13 L372.62,39.95 L373.45,39.78 L374.27,39.61 L375.10,39.43 L375.93,39.26 L376.75,39.08 L377.58,38.91 L378.40,38.73 L379.23,38.56 L380.06,38.38 L380.88,38.21 L381.71,38.03 L382.53,37.86 L383.36,37.68 L384.19,37.51 L385.01,37.33 L385.84,37.16 L386.67,36.99 L387.50,36.82 L388.33,36.64 L389.16,36.47 L389.99,36.30 L390.82,36.13 L391.65,35.96 L392.48,35.79 L393.31,35.63 L394.15,35.46 L394.98,35.29 L395.81,35.12 L396.65,34.96 L397.48,34.79 L398.32,34.62 L399.15,34.46 L399.98,34.29 L400.82,34.12 L401.65,33.96 L402.49,33.79 L403.33,33.63 L404.16,33.46 L405.00,33.30 L405.83,33.13 L406.67,32.96 L407.50,32.80 L408.33,32.63 L409.17,32.47 L410.00,32.30 L410.84,32.13 L411.67,31.96 L412.50,31.79 L413.33,31.62 L414.16,31.45 L414.99,31.28 L415.83,31.12 L416.66,30.95 L417.50,30.79 L418.35,30.64 L419.19,30.48 L420.04,30.32 L420.88,30.16 L421.73,30.01 L422.58,29.86 L423.45,29.72 L424.31,29.59 L425.19,29.48 L426.08,29.37 L426.98,29.26 L427.88,29.16 L428.79,29.07 L429.71,28.98 L430.63,28.90 L431.56,28.83 L432.49,28.77 L433.43,28.71 L434.38,28.66 L435.33,28.61 L436.29,28.56 L437.25,28.52 L438.21,28.48 L439.17,28.44 L440.13,28.39 L441.08,28.35 L442.04,28.31 L443.00,28.26 L443.96,28.22 L444.91,28.18 L445.87,28.13 L446.83,28.09 L447.79,28.05 L448.75,28.01 L449.71,27.97 L450.67,27.93 L451.64,27.89 L452.60,27.85 L453.56,27.81 L454.53,27.77 L455.49,27.74 L456.46,27.71 L457.43,27.68 L458.40,27.65 L459.37,27.62 L460.34,27.59 L461.31,27.57 L462.29,27.54 L463.26,27.52 L464.24,27.49 L465.22,27.47 L466.19,27.45 L467.17,27.43 L468.15,27.40 L469.14,27.38 L470.12,27.36 L471.10,27.35 L472.08,27.33 L473.07,27.31 L474.05,27.29 L475.04,27.27 L476.02,27.26 L477.01,27.24 L477.99,27.23 L478.98,27.21 L479.97,27.20 L480.95,27.19 L481.94,27.17 L482.93,27.16 L483.92,27.15 L484.90,27.14 L485.89,27.13 L486.88,27.12 L487.87,27.11 L488.87,27.09 L489.86,27.08 L490.85,27.07 L491.84,27.07 L492.83,27.06 L493.83,27.05 L494.82,27.04 L495.81,27.03 L496.80,27.02 L497.80,27.02 L498.79,27.01 L499.78,27.00 L500.78,26.99 L501.77,26.99 L502.77,26.98 L503.76,26.98 L504.75,26.97 L505.75,26.96 L506.74,26.96 L507.74,26.95 L508.73,26.95 L509.73,26.94 L510.73,26.94 L511.72,26.93 L512.72,26.93 L513.72,26.92 L514.71,26.92 L515.71,26.92 L516.71,26.91 L517.71,26.91 L518.70,26.91 L519.70,26.90 L520.70,26.90" fill="none" stroke="#0000FF" stroke-width="3.8" stroke-linecap="round" stroke-linejoin="round"/>
<line x1="96.80" y1="328.60" x2="520.70" y2="26.90" stroke="#000" stroke-width="2.5" stroke-dasharray="9.27 4.01"/>
<rect x="270.4" y="203.5" width="244.10000000000002" height="118.89999999999998" rx="3" fill="none" stroke="#ffffff" stroke-opacity="0.22" stroke-width="1"/>
<line x1="287.9" y1="235.3" x2="333.2" y2="235.3" stroke="#ffffff" stroke-opacity="0.45" stroke-width="6.199999999999999" stroke-linecap="round" stroke-linejoin="round" fill="none"/>
<line x1="287.9" y1="291.8" x2="333.2" y2="291.8" stroke="#ffffff" stroke-opacity="0.45" stroke-width="6.199999999999999" stroke-linecap="round" stroke-linejoin="round" fill="none"/>
<line x1="287.9" y1="235.3" x2="333.2" y2="235.3" stroke="#777777" stroke-width="3.8" stroke-linecap="round"/>
<line x1="287.9" y1="291.8" x2="333.2" y2="291.8" stroke="#0000FF" stroke-width="3.8" stroke-linecap="round"/>
<text transform="translate(351.15,228.30) scale(1,1.003)" text-anchor="start" style="font-size:22.5px" >Base Model</text>
<text transform="translate(351.15,252.70) scale(1,1.003)" text-anchor="start" style="font-size:22.5px" >(AUC = 0.6234)</text>
<text transform="translate(351.15,285.00) scale(1,1.003)" text-anchor="start" style="font-size:22.5px" >+CutMix FT</text>
<text transform="translate(351.15,308.90) scale(1,1.003)" text-anchor="start" style="font-size:22.5px" >(AUC = 0.8194)</text>
<text transform="translate(96.80,359.60) scale(1,1.003)" text-anchor="middle" style="font-size:22.4px" >0.0</text>
<text transform="translate(181.58,359.60) scale(1,1.003)" text-anchor="middle" style="font-size:22.4px" >0.2</text>
<text transform="translate(266.36,359.60) scale(1,1.003)" text-anchor="middle" style="font-size:22.4px" >0.4</text>
<text transform="translate(351.14,359.60) scale(1,1.003)" text-anchor="middle" style="font-size:22.4px" >0.6</text>
<text transform="translate(435.92,359.60) scale(1,1.003)" text-anchor="middle" style="font-size:22.4px" >0.8</text>
<text transform="translate(520.70,359.60) scale(1,1.003)" text-anchor="middle" style="font-size:22.4px" >1.0</text>
<text transform="translate(80.00,336.70) scale(1,1.003)" text-anchor="end" style="font-size:22.4px" >0.0</text>
<text transform="translate(80.00,276.36) scale(1,1.003)" text-anchor="end" style="font-size:22.4px" >0.2</text>
<text transform="translate(80.00,216.02) scale(1,1.003)" text-anchor="end" style="font-size:22.4px" >0.4</text>
<text transform="translate(80.00,155.68) scale(1,1.003)" text-anchor="end" style="font-size:22.4px" >0.6</text>
<text transform="translate(80.00,95.34) scale(1,1.003)" text-anchor="end" style="font-size:22.4px" >0.8</text>
<text transform="translate(80.00,35.00) scale(1,1.003)" text-anchor="end" style="font-size:22.4px" >1.0</text>
<text transform="translate(308.75,390.50) scale(1,1.003)" text-anchor="middle" style="font-size:22.6px" >False Positive Rate</text>
<text x="0" y="0" text-anchor="middle" style="font-size:22.6px" transform="translate(33.2,177.75) rotate(-90) scale(1,1.003)">True Positive Rate</text>
</svg>
</body></html>
